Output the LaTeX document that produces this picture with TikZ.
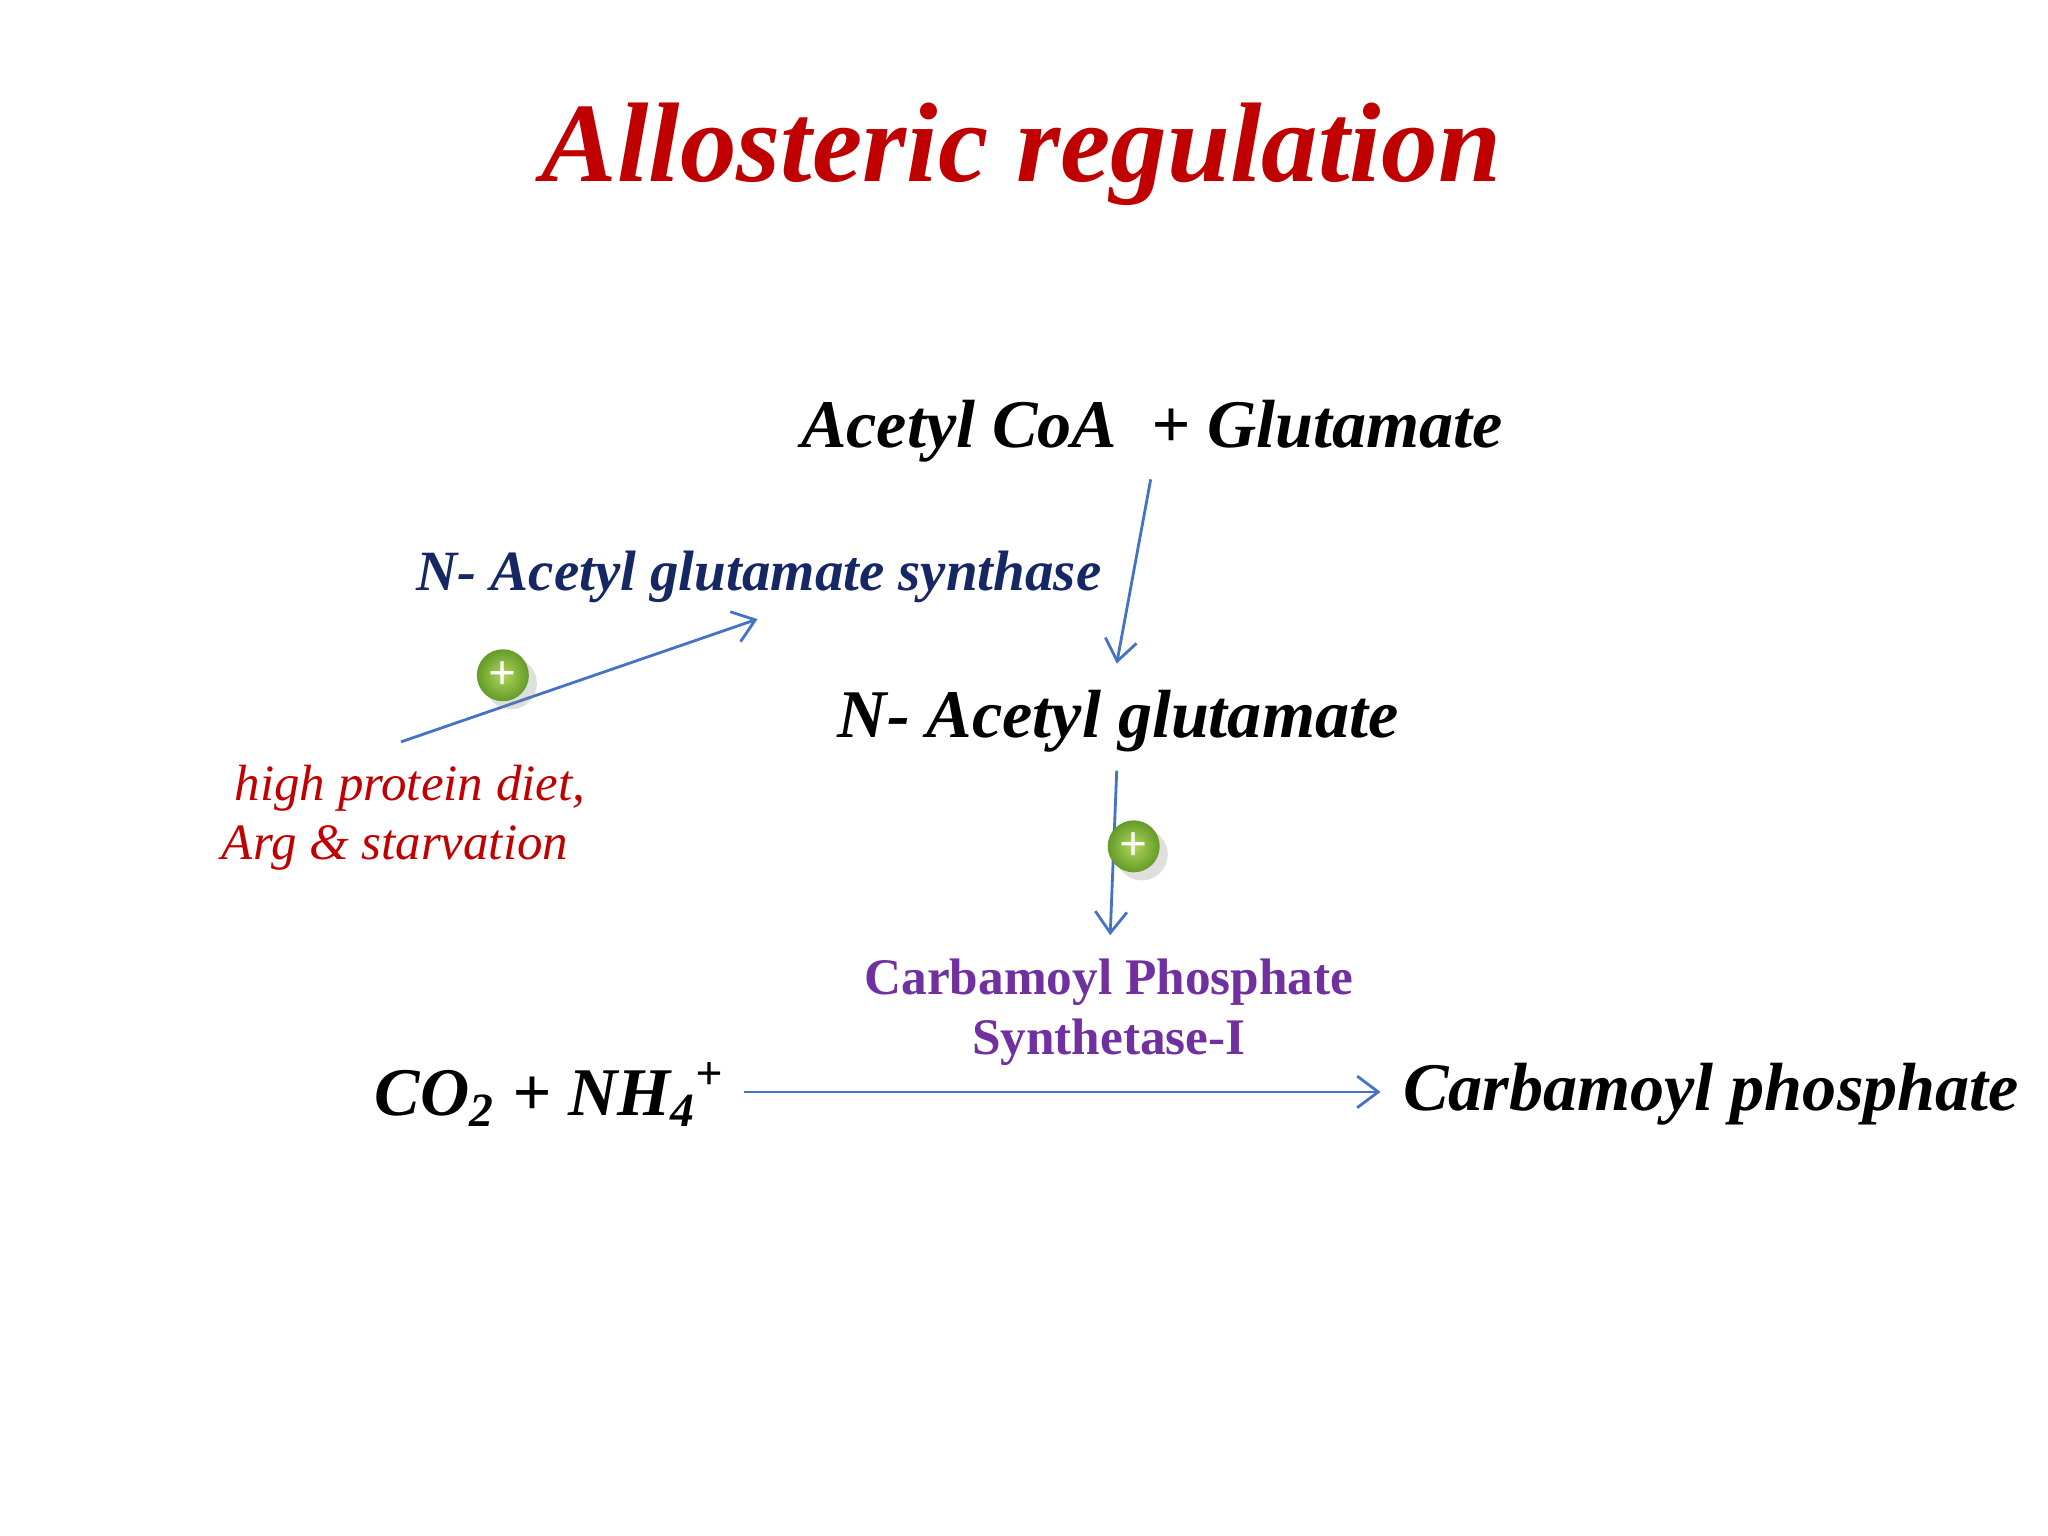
\documentclass[tikz,border=0pt]{standalone}
\usepackage{fontspec}
\setmainfont{Liberation Serif}
\usetikzlibrary{arrows.meta,shadows}
\definecolor{ttl}{RGB}{192,0,0}
\definecolor{nv}{RGB}{22,40,100}
\definecolor{pu}{RGB}{112,48,160}
\definecolor{ar}{RGB}{68,114,196}
\definecolor{gr1}{RGB}{175,215,90}
\definecolor{gr2}{RGB}{100,155,40}
\tikzset{
 main/.style={font=\fontsize{19.4}{23}\selectfont\bfseries\itshape, inner sep=0pt},
 arr/.style={draw=ar, line width=0.8pt, -{Straight Barb[length=6pt,width=9pt]}},
 plus/.style={circle, minimum size=0.52cm, inner sep=0pt, draw=none, inner color=gr1, outer color=gr2, text=white, font=\bfseries\fontsize{14}{14}\selectfont, drop shadow={opacity=0.25}},
}
\begin{document}
\begin{tikzpicture}[x=0.01306cm,y=-0.01306cm]
\useasboundingbox (0,0) rectangle (1568,1176);
\node[font=\fontsize{32.2}{38}\selectfont\bfseries\itshape, text=ttl] (title) at (782,118) {Allosteric regulation};
\node[main] (acg) at (882,330) {Acetyl CoA\enspace + Glutamate};
\node[font=\fontsize{16.2}{20}\selectfont\bfseries\itshape, text=nv, inner sep=0pt] (nags) at (581,442) {N- Acetyl glutamate synthase};
\node[main] (nag) at (856,552) {N- Acetyl glutamate};
\node[font=\fontsize{14.5}{17}\selectfont\itshape, text=ttl, align=left, inner sep=0pt] (diet) at (309,626) {\ high protein diet,\\Arg \& starvation};
\node[font=\fontsize{14.6}{17}\selectfont\bfseries, text=pu, align=center, inner sep=0pt] (cps) at (849,775) {Carbamoyl Phosphate\\Synthetase-I};
\node[main] (co2) at (421,838) {CO\textsubscript{2} + NH\textsubscript{4}\textsuperscript{+}};
\node[main] (cp) at (1310,838) {Carbamoyl phosphate};
\coordinate (a1) at (881,367); \coordinate (a2) at (855,508);
\coordinate (b1) at (855,590); \coordinate (b2) at (850,716);
\coordinate (c1) at (307,568); \coordinate (c2) at (580,474);
\coordinate (d1) at (570,836); \coordinate (d2) at (1057,836);
\draw[arr] (a1) -- (a2);
\draw[arr] (b1) -- (b2);
\draw[arr] (c1) -- (c2);
\draw[arr] (d1) -- (d2);
\node[plus] (p1) at (385,517) {+};
\node[plus] (p2) at (868,648) {+};
\end{tikzpicture}
\end{document}
